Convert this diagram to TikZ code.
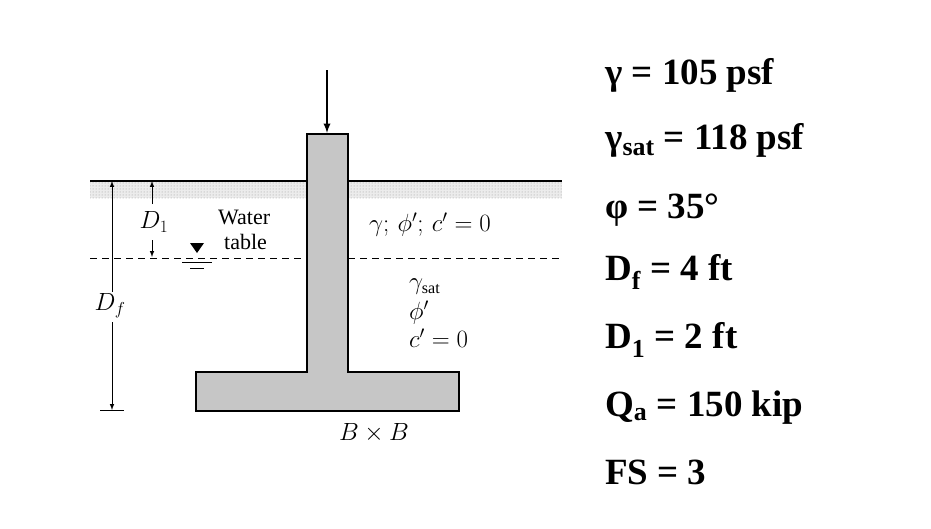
\documentclass[tikz,border=0pt]{standalone}
\usepackage{fontspec}
\setmainfont{Liberation Serif}
\usetikzlibrary{patterns}
\begin{document}
\begin{tikzpicture}[x=1pt,y=-1pt,
  lbl/.style={font=\fontsize{23}{26}\selectfont, inner sep=0pt},
  prop/.style={font=\fontsize{37}{40}\selectfont\bfseries, anchor=west, inner sep=0pt},
  dim/.style={-latex, line width=1pt}]
\useasboundingbox (0,0) rectangle (931,528);
% soil band
\fill[gray!15] (90,181) rectangle (562,198);
\fill[pattern=dots, pattern color=gray!80] (90,181) rectangle (562,198);
\draw[line width=1.8pt] (90,181) -- (307,181) (348,181) -- (562,181);
% water table
\draw[dash pattern=on 7pt off 5pt, line width=1pt] (90,258) -- (307,258) (348,258) -- (562,258);
% footing
\draw[line width=2.2pt, fill=gray!45] (307,134) -- (348,134) -- (348,372) -- (459,372) -- (459,411) -- (196,411) -- (196,372) -- (307,372) -- cycle;
\coordinate (top) at (327,133);
\coordinate (ld) at (327,70);
\draw[-latex, line width=2.2pt] (ld) -- (top);
% Df
\coordinate (df1) at (112,181); \coordinate (df2) at (112,410);
\draw[dim] (112,292) -- (df1);
\draw[dim] (112,322) -- (df2);
\draw[line width=1pt] (100,410) -- (124,410);
\node[lbl] (dflab) at (110,306) {$D_f$};
% D1
\draw[dim] (152,204) -- (152,181);
\draw[dim] (152,240) -- (152,257);
\node[lbl] (d1lab) at (154,222) {$D_1$};
% water table symbol
\fill (190,243) -- (204,243) -- (197,253) -- cycle;
\draw[line width=1pt] (182,262) -- (212,262) (190,268) -- (204,268);
\node[lbl, anchor=west, font=\fontsize{22}{23}\selectfont] (wt1) at (218,217) {Water};
\node[lbl, anchor=west, font=\fontsize{22}{23}\selectfont] (wt2) at (224,242) {table};
% soil labels
\node[lbl] (s1) at (430,225) {$\gamma;\,\phi';\,c'=0$};
\node[lbl, anchor=west] (s2) at (409,287) {$\gamma_{\mathrm{sat}}$};
\node[lbl, anchor=west] (s3) at (409,313) {$\phi'$};
\node[lbl, anchor=west] (s4) at (409,338) {$c'=0$};
\node[lbl] (bb) at (374,433) {$B\times B$};
% properties
\node[prop] (p1) at (605,75) {γ = 105 psf};
\node[prop] (p2) at (605,140) {γ\textsubscript{sat} = 118 psf};
\node[prop] (p3) at (605,210) {φ = 35°};
\node[prop] (p4) at (605,272) {D\textsubscript{f} = 4 ft};
\node[prop] (p5) at (605,340) {D\textsubscript{1} = 2 ft};
\node[prop] (p6) at (605,408) {Q\textsubscript{a} = 150 kip};
\node[prop] (p7) at (605,472) {FS = 3};
\end{tikzpicture}
\end{document}
